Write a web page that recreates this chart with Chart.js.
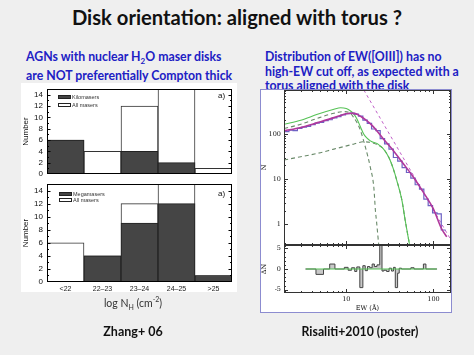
<!DOCTYPE html>
<html>
<head>
<meta charset="utf-8">
<script src="https://cdn.jsdelivr.net/npm/chart.js@4.4.0/dist/chart.umd.min.js"></script>
<style>
  body { margin: 0; width: 474px; height: 355px; background: #efefef; position: relative; overflow: hidden; font-family: Lato, "Open Sans", sans-serif; }
  .t { position: absolute; white-space: nowrap; }
  .blue { color: #2020c4; font-weight: bold; font-size: 12.3px; line-height: 14.5px; }
  canvas { position: absolute; }
  .lg { position: absolute; box-sizing: border-box; width: 13px; height: 4px; border: 1px solid #222; }
  .lt { position: absolute; font: 5.5px "Liberation Sans", sans-serif; color: #333; white-space: nowrap; }
</style>
</head>
<body>
<div class="t" style="left:0;top:4px;width:474px;text-align:center;font-size:20.2px;line-height:26px;font-weight:bold;color:#111">Disk orientation: aligned with torus ?</div>
<div class="t blue" style="left:26px;top:50px">AGNs with nuclear H<sub style="font-size:8px">2</sub>O maser disks<br>are NOT preferentially Compton thick</div>
<div class="t blue" style="left:265px;top:50px">Distribution of EW([OIII]) has no<br>high-EW cut off, as expected with a<br>torus aligned with the disk</div>

<div style="position:absolute;left:21px;top:83px;width:216px;height:209px;background:#fff"></div>
<canvas id="kilo" width="216" height="106" style="left:21px;top:83px"></canvas>
<canvas id="mega" width="216" height="108" style="left:21px;top:184px"></canvas>
<div class="lg" style="left:58px;top:95px;background:#444"></div>
<div class="lt" style="left:72px;top:94px">Kilomasers</div>
<div class="lg" style="left:58px;top:102.5px;background:#fff"></div>
<div class="lt" style="left:72px;top:101.5px">All masers</div>
<div class="lg" style="left:59px;top:191.5px;background:#444"></div>
<div class="lt" style="left:73px;top:190.5px">Megamasers</div>
<div class="lg" style="left:59px;top:198px;background:#fff"></div>
<div class="lt" style="left:73px;top:197px">All masers</div>
<div class="t" style="left:218px;top:91px;font:8px 'Liberation Sans',sans-serif;color:#111">a)</div>
<div class="t" style="left:218px;top:188.5px;font:8px 'Liberation Sans',sans-serif;color:#111">a)</div>
<div class="t" style="left:0;width:266px;top:295px;text-align:center;font-size:10.5px;color:#333">log N<sub style="font-size:7px">H</sub> (cm<sup style="font-size:7px">-2</sup>)</div>

<div style="position:absolute;left:260px;top:89px;width:192px;height:224px;box-sizing:border-box;border:1.5px solid #8c8cd0;background:#fff"></div>
<canvas id="ew" width="192" height="156" style="left:260px;top:89px"></canvas>
<canvas id="res" width="192" height="68" style="left:260px;top:245px"></canvas>

<div class="t" style="left:0;width:266px;top:324px;text-align:center;font-size:12.5px;font-weight:bold;color:#111">Zhang+ 06</div>
<div class="t" style="left:248px;width:224px;top:324px;text-align:center;font-size:12.3px;font-weight:bold;color:#111">Risaliti+2010 (poster)</div>

<script>
// left panel: column density histograms
const nhBins = ['<22', '22\u201323', '23\u201324', '24\u201325', '>25'];
const kiloMasers = [6, 0, 4, 2, 0];
const megaMasers = [0, 4, 9, 12, 1];
const allMasers = [6, 4, 12, 15, 1];
const countTicks = [0, 2, 4, 6, 8, 10, 12, 14];
const countMinor = [1, 3, 5, 7, 9, 11, 13];

// right panel: EW([OIII]) distribution
const ewEdges = [1.95, 2.2, 2.45, 2.75, 3.1, 3.5, 3.9, 4.4, 4.9, 5.5, 6.2, 6.9, 7.8, 8.7, 9.8, 11, 12.3, 13.8, 15.5, 17.4, 19.5, 21.9, 24.5, 27.5, 30.9, 34.7, 38.9, 43.7, 49, 55, 61.7, 69.2, 77.6, 87, 97.7, 110, 123, 138];
const ewCounts = [112, 120, 118, 132, 140, 146, 160, 172, 180, 196, 205, 226, 240, 262, 280, 288, 272, 245, 200, 170, 128, 118, 78, 60, 46, 30, 25, 18, 14, 10.5, 7.5, 6.0, 3.6, 2.6, 1.8, 1.7, 0.75];
const modelEW = [1.93, 3.01, 4.67, 7.22, 9, 10, 11.2, 12.2, 13.3, 15, 17.3, 20, 22.5, 26.8, 34.9, 45.4, 59, 76.7, 99.8, 124, 142];
const modelN = [116, 138, 177, 228, 262, 278, 285, 283, 270, 235, 193, 150, 116, 76, 42, 21.6, 11, 5.1, 2.2, 0.8, 0.53];
const totalEW = [1.94, 3.01, 4.67, 7.22, 8.6, 10, 11.2, 12.3, 13.3, 14.6, 15.9, 17.3, 18.9, 20.5, 22.5, 24.5, 26.8, 29.5, 32, 35, 38, 43.5, 47.5, 53];
const totalN = [163, 200, 270, 349, 378, 362, 320, 270, 210, 140, 98, 80, 70, 65, 61, 54, 46, 35, 25.5, 16, 9.3, 3.4, 1.2, 0.37];
const comp1EW = [1.94, 3.01, 4.67, 7.22, 9.4, 11, 12.2, 13.4, 14.6, 16.6, 18.9, 20.7, 21.6, 22.2, 23.5];
const comp1N = [131, 163, 221, 285, 309, 290, 228, 170, 116, 50, 18, 6.6, 2.0, 1.2, 0.37];
const comp2EW = [1.94, 3.01, 4.67, 7.22, 11.2, 15.9, 18.9, 20.7, 22.5, 26.8, 32, 38, 43.5, 47.5, 53];
const comp2N = [26.4, 31.2, 37, 46, 57, 66.7, 65, 62, 58, 46, 25.5, 9.3, 3.4, 1.2, 0.37];
const powerEW = [15.9, 160];
const powerN = [930, 0.44];
const resEdges = [3.4, 4.49, 5.48, 6.45, 7.41, 9.5, 10.5, 11.5, 12.5, 13.2, 14.3, 15.5, 16.5, 17.5, 18.6, 19.8, 21, 22.5, 24.2, 25.7, 27, 29, 31, 33, 34.8, 36.5, 38.8, 40.5, 43, 55, 60, 76.7, 82, 110];
const resVals = [0, -1.3, 0, 1.2, 0, 0.4, -0.3, 0.3, -0.6, 0.5, -4.5, 0.8, -0.4, 0.6, 0.3, 1.2, 0.6, 1.0, 5.7, -0.5, -0.3, -0.6, 0.2, -0.5, 0.4, -4.5, -1, 0.2, 0, 0.3, 0, 1.2, 0, 0];
const nTicks = [1, 10, 100];
const ewTicks = [10, 100];
const resTicks = [-5, 0, 5];
const logMinor = [2, 3, 4, 5, 6, 7, 8, 9, 20, 30, 40, 50, 60, 70, 80, 90, 200, 300, 400, 500, 600, 700, 800, 900];

// frame + inward tick marks
const frameTicks = {
  id: 'frameTicks',
  afterDatasetsDraw(chart, args, o) {
    const ctx = chart.ctx, a = chart.chartArea;
    ctx.save();
    ctx.strokeStyle = o.color || '#000';
    ctx.lineWidth = o.lineWidth || 1;
    ctx.strokeRect(a.left + 0.5, a.top + 0.5, a.right - a.left - 1, a.bottom - a.top - 1);
    ctx.lineWidth = 1;
    const marks = (axis, vals, len) => {
      const s = chart.scales[axis];
      (vals || []).forEach(v => {
        const p = Math.round(s.getPixelForValue(v)) + 0.5;
        ctx.beginPath();
        if (axis === 'y') {
          if (p < a.top || p > a.bottom) return;
          ctx.moveTo(a.left, p); ctx.lineTo(a.left + len, p);
          ctx.moveTo(a.right, p); ctx.lineTo(a.right - len, p);
        } else {
          if (p < a.left || p > a.right) return;
          ctx.moveTo(p, a.bottom); ctx.lineTo(p, a.bottom - len);
          ctx.moveTo(p, a.top); ctx.lineTo(p, a.top + len);
        }
        ctx.stroke();
      });
    };
    marks('y', o.yMajor, o.major); marks('y', o.yMinor, o.minor);
    marks('x', o.xMajor, o.major); marks('x', o.xMinor, o.minor);
    ctx.restore();
  }
};
Chart.register(frameTicks);

const sans = { family: 'Liberation Sans', size: 8 };
const serif = { family: 'DejaVu Serif', size: 6.5 };
const hidden = { display: false, drawTicks: false };
const noPad = (w, h) => (s) => { if (w) s.width = w; if (h) s.height = h; s.paddingTop = 0; s.paddingBottom = 0; s.paddingLeft = 0; s.paddingRight = 0; };

function barChart(id, part, partLabel, showX, pad) {
  return new Chart(document.getElementById(id), {
    type: 'bar',
    data: {
      labels: nhBins,
      datasets: [
        { label: partLabel, data: part, backgroundColor: '#454545', borderColor: '#222', borderWidth: 1, grouped: false, categoryPercentage: 1, barPercentage: 1 },
        { label: 'All masers', data: allMasers, backgroundColor: '#fff', borderColor: '#333', borderWidth: 1, grouped: false, categoryPercentage: 1, barPercentage: 1 }
      ]
    },
    options: {
      responsive: false, animation: false,
      layout: { padding: pad },
      plugins: { legend: { display: false }, tooltip: { enabled: false },
        frameTicks: { yMajor: countTicks, yMinor: countMinor, major: 3.5, minor: 2 } },
      scales: {
        x: { display: showX, grid: hidden, border: { display: false },
             ticks: { font: { family: 'Liberation Sans', size: 7 }, color: '#222', padding: 3 },
             afterFit: noPad(0, 10) },
        y: { min: 0, max: 15, grid: hidden, border: { display: false },
             afterBuildTicks: (s) => { s.ticks = countTicks.map(v => ({ value: v })); },
             ticks: { font: sans, color: '#111', padding: 4, autoSkip: false },
             title: { display: true, text: 'Number', font: sans, color: '#111', padding: 0 },
             afterFit: noPad(26, 0) }
      }
    }
  });
}
barChart('kilo', kiloMasers, 'Kilomasers', false, { top: 6, right: 5, bottom: 5, left: 0 });
barChart('mega', megaMasers, 'Megamasers', true, { top: 0, right: 5, bottom: 0, left: 0 });

const pts = (xs, ys) => xs.map((x, i) => ({ x: x, y: ys[i] }));
const histPts = ewCounts.map((c, i) => ({ x: ewEdges[i], y: c }));
histPts.push({ x: ewEdges[ewEdges.length - 1], y: ewCounts[ewCounts.length - 1] });
const curve = { showLine: true, pointRadius: 0, cubicInterpolationMode: 'monotone' };

new Chart(document.getElementById('ew'), {
  type: 'scatter',
  data: {
    datasets: [
      Object.assign({ data: pts(modelEW, modelN), borderColor: '#b0389c', borderWidth: 1.6 }, curve),
      { data: histPts, showLine: true, pointRadius: 0, stepped: 'before', borderColor: '#6d62c4', borderWidth: 1.2 },
      Object.assign({ data: pts(powerEW, powerN), borderColor: '#c060c8', borderWidth: 1, borderDash: [3, 3] }, curve),
      Object.assign({ data: pts(totalEW, totalN), borderColor: '#55c255', borderWidth: 1.1 }, curve),
      Object.assign({ data: pts(comp1EW, comp1N), borderColor: '#6a8a6a', borderWidth: 1.1, borderDash: [4, 3] }, curve),
      Object.assign({ data: pts(comp2EW, comp2N), borderColor: '#6a8a6a', borderWidth: 1.1, borderDash: [4, 3] }, curve)
    ]
  },
  options: {
    responsive: false, animation: false,
    layout: { padding: { top: 1, right: 1, bottom: 0, left: 0 } },
    plugins: { legend: { display: false }, tooltip: { enabled: false },
      frameTicks: { yMajor: nTicks, yMinor: logMinor, xMajor: ewTicks, xMinor: logMinor, major: 4, minor: 2, color: '#333' } },
    scales: {
      x: { type: 'logarithmic', min: 1.93, max: 159, display: false },
      y: { type: 'logarithmic', min: 0.35, max: 930, grid: hidden, border: { display: false },
           afterBuildTicks: (s) => { s.ticks = nTicks.map(v => ({ value: v })); },
           ticks: { font: serif, color: '#111', padding: 3, autoSkip: false, callback: (v) => String(v) },
           title: { display: true, text: 'N', font: serif, color: '#111', padding: 0 },
           afterFit: noPad(24, 0) }
    }
  }
});

const resPts = resVals.map((v, i) => ({ x: resEdges[i], y: v }));
new Chart(document.getElementById('res'), {
  type: 'scatter',
  data: {
    datasets: [
      { data: pts([3.44, 109], [0, 0]), showLine: true, pointRadius: 0, borderColor: '#55c255', borderWidth: 1 },
      { data: resPts, showLine: true, pointRadius: 0, stepped: 'before', borderColor: '#444', borderWidth: 1, fill: 'origin', backgroundColor: '#c8c8c8' }
    ]
  },
  options: {
    responsive: false, animation: false,
    layout: { padding: { top: 0, right: 1, bottom: 0, left: 0 } },
    plugins: { legend: { display: false }, tooltip: { enabled: false },
      frameTicks: { yMajor: resTicks, yMinor: [-4, -3, -2, -1, 1, 2, 3, 4], xMajor: ewTicks, xMinor: logMinor, major: 4, minor: 2, color: '#333' } },
    scales: {
      x: { type: 'logarithmic', min: 1.93, max: 159, grid: hidden, border: { display: false },
           afterBuildTicks: (s) => { s.ticks = ewTicks.map(v => ({ value: v })); },
           ticks: { font: serif, color: '#111', padding: 2, maxRotation: 0, autoSkip: false, callback: (v) => String(v) },
           title: { display: true, text: 'EW (\u00c5)', font: serif, color: '#111', padding: { top: 0, bottom: 1 } },
           afterFit: noPad(0, 20) },
      y: { min: -5.8, max: 5.8, grid: hidden, border: { display: false },
           afterBuildTicks: (s) => { s.ticks = resTicks.map(v => ({ value: v })); },
           ticks: { font: serif, color: '#111', padding: 3, autoSkip: false },
           title: { display: true, text: '\u0394N', font: serif, color: '#111', padding: 0 },
           afterFit: noPad(24, 0) }
    }
  }
});
</script>
</body>
</html>
